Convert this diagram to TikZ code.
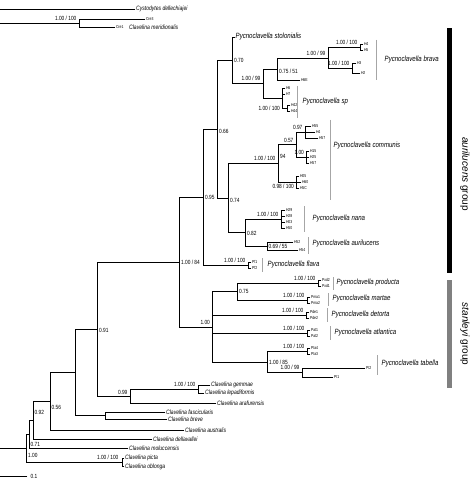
\documentclass[tikz,border=0pt]{standalone}
\usepackage{fontspec}
\setmainfont{Liberation Sans}
\newfontfamily\nar{Liberation Sans}[FakeStretch=0.8]
\newcommand\tipn[4]{\coordinate (#1) at (#2,#3);\node[tip] (l#1) at (#1) {#4};}
\newcommand\tipc[4]{\coordinate (#1) at (#2,#3);\node[cl] (l#1) at (#1) {#4};}
\begin{document}
\begin{tikzpicture}[x=1pt,y=-1pt,
  br/.style={line width=0.75pt,line cap=rect},
  sepl/.style={black!35,line width=0.4pt},
  supl/.style={font=\nar\fontsize{6}{6.5}\selectfont,inner sep=0.4pt},
  tip/.style={font=\nar\fontsize{4.3}{4.8}\selectfont,inner sep=0.8pt,anchor=west},
  cl/.style={font=\nar\itshape\fontsize{6.3}{7}\selectfont,inner sep=1pt,anchor=west},
  spl/.style={font=\nar\itshape\fontsize{7.6}{8.5}\selectfont,inner sep=0.5pt,anchor=west},
  grp/.style={font=\fontsize{10}{11}\selectfont,rotate=-90,inner sep=0pt}]
\useasboundingbox (0,0) rectangle (474,484);
\fill[white] (0,0) rectangle (474,484);

% ---------- outgroups ----------
\coordinate (e1) at (0,9);
\coordinate (e2) at (0,23);
\coordinate (e3) at (0,448);
\coordinate (ncm) at (79,23);
\tipc{tcys}{135}{9}{Cystodytes dellechiajei}
\tipn{tcre3}{145}{19}{Cre3}
\tipn{tcre1}{115}{27}{Cre1}
\node[cl] (lmer) at (128,27) {Clavelina meridionalis};
\draw[br] (e1) -- (tcys);
\draw[br] (e2) -- (ncm);
\draw[br] (ncm) |- (tcre3);
\draw[br] (ncm) |- (tcre1);
\node[supl,anchor=south east] (bcm) at (77,21.5) {1.00 / 100};

% ---------- Clavelina ladder ----------
\coordinate (nE) at (26,448);
\coordinate (nD) at (29,434);
\coordinate (nC) at (33,420.5);
\coordinate (nB) at (50,401);
\coordinate (nA) at (75,372.5);
\coordinate (n091) at (97,329);
\coordinate (nFB) at (105,415.5);
\coordinate (nPO) at (122,462);
\coordinate (n099) at (130,396.5);
\coordinate (nGL) at (198,389);
\tipc{tgem}{210}{385}{Clavelina gemmae}
\tipc{tlep}{204}{393}{Clavelina lepadiformis}
\tipc{tara}{216}{403}{Clavelina arafurensis}
\tipc{tfas}{165}{412}{Clavelina fascicularis}
\tipc{tbre}{167}{419.5}{Clavelina breve}
\tipc{taus}{184}{430}{Clavelina australis}
\tipc{tdel}{152}{439}{Clavelina dellavallei}
\tipc{tmol}{128}{448}{Clavelina moluccensis}
\tipc{tpic}{124}{458}{Clavelina picta}
\tipc{tobl}{124}{466.5}{Clavelina oblonga}
\draw[br] (e3) -- (nE);
\draw[br] (nE) |- (nD);
\draw[br] (nE) |- (nPO);
\draw[br] (nD) |- (nC);
\draw[br] (nD) |- (tmol);
\draw[br] (nC) |- (nB);
\draw[br] (nC) |- (tdel);
\draw[br] (nB) |- (nA);
\draw[br] (nB) |- (taus);
\draw[br] (nA) |- (n091);
\draw[br] (nA) |- (nFB);
\draw[br] (nFB) |- (tfas);
\draw[br] (nFB) |- (tbre);
\draw[br] (nPO) |- (tpic);
\draw[br] (nPO) |- (tobl);
\draw[br] (n091) |- (n099);
\draw[br] (n099) |- (nGL);
\draw[br] (n099) |- (tara);
\draw[br] (nGL) |- (tgem);
\draw[br] (nGL) |- (tlep);
\node[supl,anchor=west] (bE) at (27.5,455) {1.00};
\node[supl,anchor=west] (bD) at (30,444) {0.71};
\node[supl,anchor=west] (bC) at (34,412) {0.92};
\node[supl,anchor=west] (bB) at (51,407) {0.56};
\node[supl,anchor=west] (b091) at (98.5,330) {0.91};
\node[supl,anchor=south east] (b099) at (128,395) {0.99};
\node[supl,anchor=south east] (bGL) at (196,387.5) {1.00 / 100};
\node[supl,anchor=south east] (bPO) at (119,460.5) {1.00 / 100};

% ---------- Pycnoclavella ----------
\coordinate (n184) at (179,262);
\coordinate (n095) at (203,197);
\coordinate (nST) at (212,327);
\coordinate (n066) at (217,129);
\coordinate (nFL) at (248,265);
\coordinate (n070) at (232,60);
\coordinate (n074) at (228,198);
\coordinate (tsto) at (235,37);
\coordinate (n199a) at (263,83.5);
\coordinate (n075) at (277,69);
\coordinate (nSP) at (282,98);
\coordinate (nSPb) at (287,108);
\coordinate (n199b) at (328,58);
\coordinate (nBRa) at (360,47);
\coordinate (nBRb) at (352,68);
\coordinate (nCM) at (278,163);
\coordinate (nCA) at (296,144.5);
\coordinate (nCB) at (296,182);
\coordinate (nCc) at (305,132);
\coordinate (nCd) at (306,157);
\coordinate (n082) at (245,232.5);
\coordinate (nNA) at (281,219);
\coordinate (nAU) at (267,246);

\tipn{th4}{363}{44}{H4}
\tipn{th5}{363}{50}{H5}
\tipn{th3}{356}{63}{H3}
\tipn{th2}{360}{73}{H2}
\tipn{th6e}{300}{80}{H6E}
\tipn{th6}{285}{88}{H6}
\tipn{th7}{285}{94}{H7}
\tipn{th42}{290}{105}{H42}
\tipn{th44}{290}{111}{H44}
\tipn{th55}{311}{126}{H55}
\tipn{th4c}{315}{132}{H4}
\tipn{th57}{318}{138}{H57}
\tipn{th15}{309}{151}{H15}
\tipn{th25}{309}{157}{H25}
\tipn{th57b}{309}{163}{H57}
\tipn{th05}{299}{176}{H05}
\tipn{th60}{301}{182}{H60}
\tipn{th5c}{299}{188}{H5C}
\tipn{th29}{285}{210}{H29}
\tipn{th28}{285}{216}{H28}
\tipn{th03}{285}{222}{H03}
\tipn{th50}{285}{228}{H50}
\tipn{th52}{293}{242}{H52}
\tipn{th54}{298}{250}{H54}
\tipn{tpf1}{251}{262}{Pf1}
\tipn{tpf2}{251}{268}{Pf2}

\draw[br] (n091) |- (n184);
\draw[br] (n184) |- (n095);
\draw[br] (n184) |- (nST);
\draw[br] (n095) |- (n066);
\draw[br] (n095) |- (nFL);
\draw[br] (nFL) |- (tpf1);
\draw[br] (nFL) |- (tpf2);
\draw[br] (n066) |- (n070);
\draw[br] (n066) |- (n074);
\draw[br] (n070) |- (tsto);
\draw[br] (n070) |- (n199a);
\draw[br] (n199a) |- (n075);
\draw[br] (n199a) |- (nSP);
\draw[br] (n075) |- (n199b);
\draw[br] (n075) |- (th6e);
\draw[br] (n199b) |- (nBRa);
\draw[br] (n199b) |- (nBRb);
\draw[br] (nBRa) |- (th4);
\draw[br] (nBRa) |- (th5);
\draw[br] (nBRb) |- (th3);
\draw[br] (nBRb) |- (th2);
\draw[br] (nSP) |- (th6);
\draw[br] (nSP) |- (th7);
\draw[br] (nSP) |- (nSPb);
\draw[br] (nSPb) |- (th42);
\draw[br] (nSPb) |- (th44);
\draw[br] (n074) |- (nCM);
\draw[br] (n074) |- (n082);
\draw[br] (nCM) |- (nCA);
\draw[br] (nCM) |- (nCB);
\draw[br] (nCA) |- (nCc);
\draw[br] (nCA) |- (nCd);
\draw[br] (nCc) |- (th55);
\draw[br] (nCc) |- (th4c);
\draw[br] (nCc) |- (th57);
\draw[br] (nCd) |- (th15);
\draw[br] (nCd) |- (th25);
\draw[br] (nCd) |- (th57b);
\draw[br] (nCB) |- (th05);
\draw[br] (nCB) |- (th60);
\draw[br] (nCB) |- (th5c);
\draw[br] (n082) |- (nNA);
\draw[br] (n082) |- (nAU);
\draw[br] (nNA) |- (th29);
\draw[br] (nNA) |- (th28);
\draw[br] (nNA) |- (th03);
\draw[br] (nNA) |- (th50);
\draw[br] (nAU) |- (th52);
\draw[br] (nAU) |- (th54);

\node[supl,anchor=west] (b184) at (180.5,262) {1.00 / 84};
\node[supl,anchor=west] (b095) at (204.5,197) {0.95};
\node[supl,anchor=west] (b066) at (218.5,131) {0.66};
\node[supl,anchor=west] (b070) at (233.5,60) {0.70};
\node[supl,anchor=south east] (b199a) at (261,81.5) {1.00 / 99};
\node[supl,anchor=west] (b075) at (278.5,71) {0.75 / 51};
\node[supl,anchor=south east] (b199b) at (326,56.5) {1.00 / 99};
\node[supl,anchor=south east] (bBRa) at (358,45.5) {1.00 / 100};
\node[supl,anchor=south east] (bBRb) at (350,66.5) {1.00 / 100};
\node[supl,anchor=east] (bSPb) at (280.5,108) {1.00 / 100};
\node[supl,anchor=west] (b074) at (229.5,200) {0.74};
\node[supl,anchor=south east] (bCM) at (276,161.5) {1.00 / 100};
\node[supl,anchor=west] (bCM2) at (279.5,156) {94};
\node[supl,anchor=south east] (bCA) at (294,143) {0.57};
\node[supl,anchor=south east] (bCc) at (303,130.5) {0.97};
\node[supl,anchor=south east] (bCd) at (304.5,155.5) {1.00};
\node[supl,anchor=north east] (bCB) at (294.5,183.5) {0.98 / 100};
\node[supl,anchor=west] (b082) at (246.5,233) {0.82};
\node[supl,anchor=south east] (bNA) at (279,217.5) {1.00 / 100};
\node[supl,anchor=west] (bAU) at (268,246) {0.69 / 55};
\node[supl,anchor=south east] (bFL) at (246,263.5) {1.00 / 100};

\node[spl] (ssto) at (tsto) {Pycnoclavella stolonialis};
\node[spl] (sbra) at (384,60) {Pycnoclavella brava};
\node[spl] (ssp) at (302,102) {Pycnoclavella sp};
\node[spl] (scom) at (333,146) {Pycnoclavella communis};
\node[spl] (snan) at (312,219) {Pycnoclavella nana};
\node[spl] (saur) at (312,244) {Pycnoclavella aurilucens};
\node[spl] (sfla) at (267,265) {Pycnoclavella flava};

% ---------- stanleyi group ----------
\coordinate (n075s) at (237,291.5);
\coordinate (nPR) at (318,283);
\coordinate (nMA) at (307,300);
\coordinate (nDE) at (306,315);
\coordinate (nAT) at (307,333);
\coordinate (nTB) at (267,362);
\coordinate (nTBa) at (307,351);
\coordinate (nTBb) at (302,372.5);
\tipn{tpxd2}{321}{280}{Pxd2}
\tipn{tpxd1}{321}{286}{Pxd1}
\tipn{tpma1}{310}{297}{Pma1}
\tipn{tpma2}{310}{303}{Pma2}
\tipn{tpde1}{309}{312}{Pde1}
\tipn{tpde2}{309}{318}{Pde2}
\tipn{tpat1}{310}{330}{Pat1}
\tipn{tpat2}{310}{336}{Pat2}
\tipn{tpta4}{310}{348}{Pta4}
\tipn{tpta3}{310}{354}{Pta3}
\tipn{tpt2}{365}{368}{Pt2}
\tipn{tpt1}{333}{377}{Pt1}
\draw[br] (nST) |- (n075s);
\draw[br] (nST) |- (nDE);
\draw[br] (nST) |- (nAT);
\draw[br] (nST) |- (nTB);
\draw[br] (n075s) |- (nPR);
\draw[br] (n075s) |- (nMA);
\draw[br] (nPR) |- (tpxd2);
\draw[br] (nPR) |- (tpxd1);
\draw[br] (nMA) |- (tpma1);
\draw[br] (nMA) |- (tpma2);
\draw[br] (nDE) |- (tpde1);
\draw[br] (nDE) |- (tpde2);
\draw[br] (nAT) |- (tpat1);
\draw[br] (nAT) |- (tpat2);
\draw[br] (nTB) |- (nTBa);
\draw[br] (nTB) |- (nTBb);
\draw[br] (nTBa) |- (tpta4);
\draw[br] (nTBa) |- (tpta3);
\draw[br] (nTBb) |- (tpt2);
\draw[br] (nTBb) |- (tpt1);
\node[supl,anchor=south east] (bST) at (210.5,325) {1.00};
\node[supl,anchor=west] (b075s) at (238.5,291.5) {0.75};
\node[supl,anchor=south east] (bPR) at (316,281.5) {1.00 / 100};
\node[supl,anchor=south east] (bMA) at (305,298.5) {1.00 / 100};
\node[supl,anchor=south east] (bDE) at (304,313.5) {1.00 / 100};
\node[supl,anchor=south east] (bAT) at (305,331.5) {1.00 / 100};
\node[supl,anchor=west] (bTB) at (268.5,362) {1.00 / 85};
\node[supl,anchor=south east] (bTBa) at (305,349.5) {1.00 / 100};
\node[supl,anchor=south east] (bTBb) at (300,370.5) {1.00 / 99};
\node[spl] (spro) at (336,283) {Pycnoclavella producta};
\node[spl] (smar) at (332,299) {Pycnoclavella martae};
\node[spl] (sdet) at (331,315) {Pycnoclavella detorta};
\node[spl] (satl) at (334,333) {Pycnoclavella atlantica};
\node[spl] (stab) at (381,364) {Pycnoclavella tabella};

% ---------- separators ----------
\draw[sepl] (376,40) -- (376,80);
\draw[sepl] (297,86) -- (297,118);
\draw[sepl] (330,120) -- (330,200);
\draw[sepl] (304,206) -- (304,232);
\draw[sepl] (308,237) -- (308,254);
\draw[sepl] (262,258) -- (262,272);
\draw[sepl] (333,277) -- (333,290);
\draw[sepl] (328,293) -- (328,306);
\draw[sepl] (327,308) -- (327,322);
\draw[sepl] (330,326) -- (330,340);
\draw[sepl] (377,355) -- (377,375);

% ---------- group bars ----------
\fill[black] (447,28) rectangle (452,273);
\fill[black!50] (447,280) rectangle (452,388);
\node[grp] (gau) at (465,174) {\textit{aurilucens} group};
\node[grp] (gst) at (465,334) {\textit{stanleyi} group};

% ---------- scale bar ----------
\coordinate (sb1) at (0,476);
\coordinate (sb2) at (27,476);
\draw[br] (sb1) -- (sb2);
\node[supl,anchor=west] (lsb) at (30,476) {0.1};
\end{tikzpicture}
\end{document}
